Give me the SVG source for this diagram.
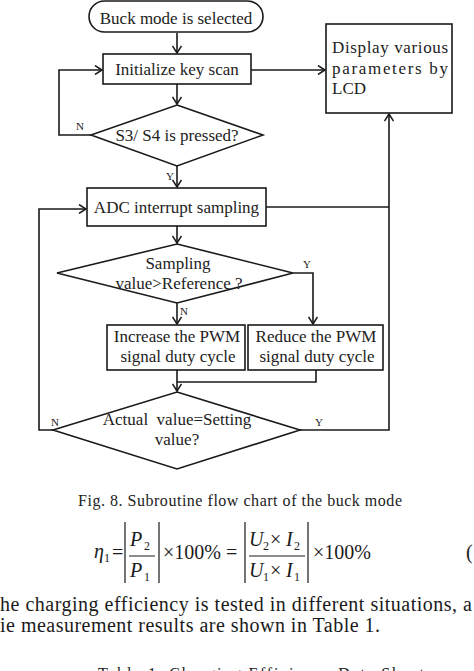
<svg xmlns="http://www.w3.org/2000/svg" width="474" height="671" viewBox="0 0 474 671">
<defs>
<marker id="arr" markerWidth="10" markerHeight="10" refX="8" refY="5" orient="auto" markerUnits="userSpaceOnUse">
<path d="M1,0.5 L8,5 L1,9.5" fill="none" stroke="#1a1a1a" stroke-width="1.5"/>
</marker>
<style>
.s{fill:none;stroke:#1a1a1a;stroke-width:1.6}
.b{fill:#fff;stroke:#1a1a1a;stroke-width:1.6}
.t{font-family:"Liberation Serif","Times New Roman",serif;font-size:17px;fill:#222;text-anchor:middle}
.l{font-family:"Liberation Serif","Times New Roman",serif;font-size:11px;fill:#222}
.c{font-family:"Liberation Serif","Times New Roman",serif;font-size:16px;fill:#222}
.p{font-family:"Liberation Serif","Times New Roman",serif;font-size:20px;fill:#1a1a1a}
.i{font-style:italic}
.sb{font-size:12px}
</style>
</defs>
<rect width="474" height="671" fill="#fff"/>

<g id="connectors">
<path class="s" d="M177,33 V53" marker-end="url(#arr)"/>
<path class="s" d="M251,70 H325" marker-end="url(#arr)"/>
<path class="s" d="M177,84 V104" marker-end="url(#arr)"/>
<path class="s" d="M91,135 H59 V70 H102" marker-end="url(#arr)"/>
<path class="s" d="M177,166 V187" marker-end="url(#arr)"/>
<path class="s" d="M266,207 H389"/>
<path class="s" d="M300,430 H389 V114" marker-end="url(#arr)"/>
<path class="s" d="M53,430 H39 V209 H86" marker-end="url(#arr)"/>
<path class="s" d="M177,226 V243" marker-end="url(#arr)"/>
<path class="s" d="M293,273 H313 V324" marker-end="url(#arr)"/>
<path class="s" d="M177,303 V324" marker-end="url(#arr)"/>
<path class="s" d="M177,370 V391" marker-end="url(#arr)"/>
<path class="s" d="M316,370 V382 H177"/>
<text class="l" x="76" y="130">N</text>
<text class="l" x="166" y="180">Y</text>
<text class="l" x="303" y="268">Y</text>
<text class="l" x="180" y="315">N</text>
<text class="l" x="51" y="426">N</text>
<text class="l" x="315" y="426">Y</text>
</g>

<g id="start">
<rect class="b" x="89" y="1" width="174" height="31" rx="15.5"/>
<text class="t" x="176" y="24">Buck mode is selected</text>
</g>

<g id="init">
<rect class="b" x="103" y="54" width="148" height="30"/>
<text class="t" x="177" y="75">Initialize key scan</text>
</g>

<g id="display">
<rect class="b" x="326" y="24" width="126" height="89"/>
<text class="t" x="390" y="53" textLength="116" lengthAdjust="spacing">Display various</text>
<text class="t" x="390" y="74" textLength="116" lengthAdjust="spacing">parameters by</text>
<text class="t" x="332" y="94" style="text-anchor:start">LCD</text>
</g>

<g id="decision1">
<polygon class="b" points="177,105 263,135 177,166 91,135"/>
<text class="t" x="177" y="141">S3/ S4 is pressed?</text>
</g>

<g id="adc">
<rect class="b" x="87" y="188" width="179" height="38"/>
<text class="t" x="176.5" y="213">ADC interrupt sampling</text>
</g>

<g id="decision2">
<polygon class="b" points="177,244 293,273 177,303 57,273"/>
<text class="t" x="178" y="269">Sampling</text>
<text class="t" x="179" y="289">value&gt;Reference ?</text>
</g>

<g id="increase">
<rect class="b" x="107" y="325" width="138" height="45"/>
<text class="t" x="177" y="342">Increase the PWM</text>
<text class="t" x="178" y="362">signal duty cycle</text>
</g>

<g id="reduce">
<rect class="b" x="248" y="325" width="135" height="45"/>
<text class="t" x="316" y="342">Reduce the PWM</text>
<text class="t" x="317" y="362">signal duty cycle</text>
</g>

<g id="decision3">
<polygon class="b" points="177,392 300,430 177,469 53,430"/>
<text class="t" x="177" y="425" xml:space="preserve">Actual  value=Setting</text>
<text class="t" x="177" y="445">value?</text>
</g>

<text class="c" x="78" y="506" textLength="324" lengthAdjust="spacing">Fig. 8. Subroutine flow chart of the buck mode</text>

<g id="equation">
<text class="p i" x="94" y="558">η</text>
<text class="p sb" x="104" y="562">1</text>
<text class="p" x="112" y="559">=</text>
<path class="s" d="M125,522 V583 M159,522 V583 M129,556 H155 M245,522 V583 M308,522 V583 M249,556 H305" style="stroke-width:1.2"/>
<text class="p i" x="130" y="546">P</text>
<text class="p sb" x="144" y="550">2</text>
<text class="p i" x="130" y="577">P</text>
<text class="p sb" x="144" y="581">1</text>
<text class="p" x="163" y="559">×100% =</text>
<text class="p i" x="249" y="546">U</text>
<text class="p sb" x="263" y="550">2</text>
<text class="p" x="270" y="546">×</text>
<text class="p i" x="286" y="546">I</text>
<text class="p sb" x="294" y="550">2</text>
<text class="p i" x="249" y="577">U</text>
<text class="p sb" x="263" y="581">1</text>
<text class="p" x="270" y="577">×</text>
<text class="p i" x="286" y="577">I</text>
<text class="p sb" x="294" y="581">1</text>
<text class="p" x="313" y="559">×100%</text>
<text class="p" x="466" y="559">(</text>
</g>

<text class="p" x="0" y="611" textLength="472" lengthAdjust="spacing">he charging efficiency is tested in different situations, a</text>
<text class="p" x="0" y="632" textLength="380" lengthAdjust="spacing">ie measurement results are shown in Table 1.</text>
<text class="c" x="98" y="679" textLength="326" lengthAdjust="spacing">Table 1. Charging Efficiency Data Sheet</text>
</svg>
